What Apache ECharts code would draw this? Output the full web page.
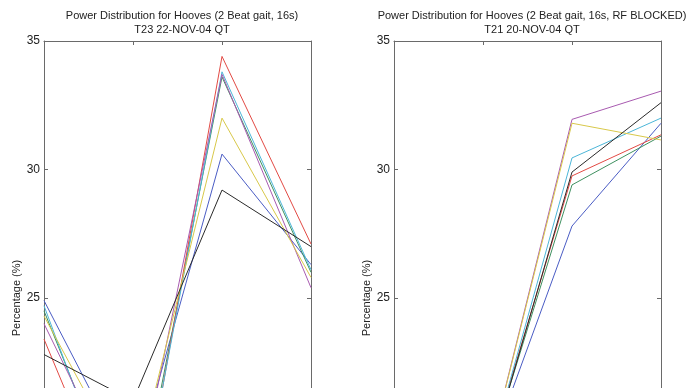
<!DOCTYPE html>
<html>
<head>
<meta charset="utf-8">
<script src="https://cdn.jsdelivr.net/npm/echarts@6/dist/echarts.min.js"></script>
<style>
html,body{margin:0;padding:0;background:#fff;}
#chart{width:690px;height:388px;}
</style>
</head>
<body>
<div id="chart"></div>
<script>
// Hoof positions (x)
const hooves = [1, 2, 3, 4];
const yTicks = [15, 20, 25, 30, 35];

const seriesNames = ['blue', 'green', 'red', 'cyan', 'magenta', 'yellow', 'black'];
const seriesColors = ['#4a5cc4', '#3f9060', '#e24a44', '#4cb6d8', '#a85ab0', '#d8c84a', '#2a2a2a'];

// Left plot: T23 22-NOV-04 QT
const leftBlue    = [24.9, 18.2, 30.6, 26.3];
const leftGreen   = [24.5, 15.9, 33.6, 26.0];
const leftRed     = [23.4, 15.1, 34.4, 27.1];
const leftCyan    = [24.7, 15.4, 33.8, 26.1];
const leftMagenta = [24.0, 16.9, 33.7, 25.4];
const leftYellow  = [24.3, 17.9, 32.0, 25.8];
const leftBlack   = [22.8, 21.0, 29.2, 27.0];

// Right plot: T21 20-NOV-04 QT (RF blocked)
const rightBlue    = [20.5, 18.3, 27.8, 31.8];
const rightGreen   = [20.5, 18.2, 29.4, 31.3];
const rightRed     = [20.8, 18.2, 29.75, 31.35];
const rightCyan    = [19.5, 18.0, 30.45, 32.0];
const rightMagenta = [17.0, 18.0, 31.95, 33.05];
const rightYellow  = [19.0, 18.0, 31.8, 31.15];
const rightBlack   = [19.5, 18.0, 29.9, 32.6];

const leftData  = [leftBlue, leftGreen, leftRed, leftCyan, leftMagenta, leftYellow, leftBlack];
const rightData = [rightBlue, rightGreen, rightRed, rightCyan, rightMagenta, rightYellow, rightBlack];

const titleLeft  = 'Power Distribution for Hooves (2 Beat gait, 16s)\nT23 22-NOV-04 QT';
const titleRight = 'Power Distribution for Hooves (2 Beat gait, 16s, RF BLOCKED)\nT21 20-NOV-04 QT';
const yName = 'Percentage (%)';

const FONT = '"Liberation Sans", Arial, Helvetica, sans-serif';
const AXC = '#6a6a6a';

const grids = [
  {left: 44, top: 41, width: 267, height: 514, outerBoundsMode: 'none', containLabel: false},
  {left: 394, top: 41, width: 267, height: 514, outerBoundsMode: 'none', containLabel: false}
];

function xAxes(gi) {
  const base = {
    type: 'value', gridIndex: gi, min: hooves[0], max: hooves[hooves.length-1], interval: 1,
    splitLine: {show: false},
    axisLine: {show: true, onZero: false, lineStyle: {color: AXC, width: 1}},
    axisTick: {show: true, inside: true, length: 4, lineStyle: {color: AXC}},
  };
  return [
    Object.assign({}, base, {position: 'bottom', axisLabel: {show: true, fontFamily: FONT, fontSize: 11, color: '#222'}}),
    Object.assign({}, base, {position: 'top', axisLabel: {show: false}})
  ];
}
function yAxes(gi) {
  const base = {
    type: 'value', gridIndex: gi, min: yTicks[0], max: yTicks[yTicks.length-1], interval: 5,
    splitLine: {show: false},
    axisLine: {show: true, onZero: false, lineStyle: {color: AXC, width: 1}},
    axisTick: {show: true, inside: true, length: 4, lineStyle: {color: AXC}},
  };
  return [
    Object.assign({}, base, {
      position: 'left',
      axisLabel: {show: true, fontFamily: FONT, fontSize: 12, color: '#222', margin: 4},
      name: yName, nameLocation: 'middle', nameGap: 22,
      nameTextStyle: {fontFamily: FONT, fontSize: 11, color: '#222'}
    }),
    Object.assign({}, base, {position: 'right', axisLabel: {show: false}})
  ];
}

const series = [];
function addSeries(dataSets, gi) {
  dataSets.forEach((vals, i) => {
    series.push({
      name: seriesNames[i], type: 'line',
      xAxisIndex: gi * 2, yAxisIndex: gi * 2,
      data: hooves.map((h, k) => [h, vals[k]]),
      symbol: 'none', lineStyle: {width: 1, color: seriesColors[i]},
      itemStyle: {color: seriesColors[i]},
      clip: true, animation: false, silent: true
    });
  });
}
addSeries(leftData, 0);
addSeries(rightData, 1);

const chart = echarts.init(document.getElementById('chart'), null, {renderer: 'canvas'});
chart.setOption({
  backgroundColor: '#ffffff',
  animation: false,
  title: [
    {text: titleLeft, left: 177, top: 4, textAlign: 'center',
     textStyle: {fontFamily: FONT, fontSize: 11, fontWeight: 'normal', color: '#222', lineHeight: 14}},
    {text: titleRight, left: 527, top: 4, textAlign: 'center',
     textStyle: {fontFamily: FONT, fontSize: 11, fontWeight: 'normal', color: '#222', lineHeight: 14}}
  ],
  grid: grids,
  xAxis: [].concat(xAxes(0), xAxes(1)),
  yAxis: [].concat(yAxes(0), yAxes(1)),
  series: series
});
</script>
</body>
</html>
